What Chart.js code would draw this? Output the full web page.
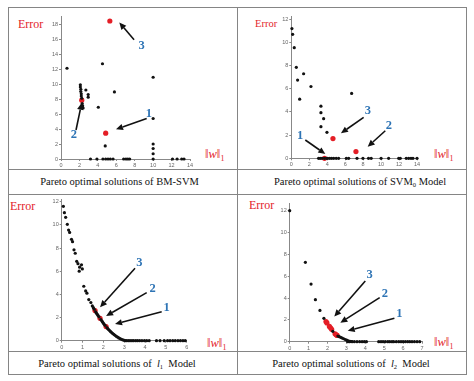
<!DOCTYPE html>
<html><head><meta charset="utf-8">
<script src="https://cdn.jsdelivr.net/npm/chart.js@4.4.1/dist/chart.umd.min.js"></script>
<style>
html,body{margin:0;padding:0;background:#fff;}
#fig{position:relative;width:474px;height:381px;overflow:hidden;font-family:"Liberation Serif",serif;background:#fff;}
.ln{position:absolute;background:#858585;}
.cap{position:absolute;font-size:10.5px;line-height:12px;color:#111;text-align:center;white-space:nowrap;width:220px;}
.cap sub{font-size:6.5px;vertical-align:-2px;}
.err{position:absolute;color:#e3232b;font-size:12px;line-height:14px;white-space:nowrap;}
.nrm{position:absolute;color:#e3232b;font-size:12.5px;line-height:14px;white-space:nowrap;}
.nrm sub{font-size:8px;vertical-align:-3px;}
canvas{position:absolute;}
</style></head><body>
<div id="fig">
  <div class="ln" style="left:8px;top:7px;width:459px;height:1px"></div>
  <div class="ln" style="left:8px;top:374px;width:459px;height:1px"></div>
  <div class="ln" style="left:8px;top:7px;width:1px;height:368px"></div>
  <div class="ln" style="left:466px;top:7px;width:1px;height:368px"></div>
  <div class="ln" style="left:237px;top:7px;width:1px;height:368px"></div>
  <div class="ln" style="left:8px;top:169px;width:459px;height:1px"></div>
  <div class="ln" style="left:8px;top:194px;width:459px;height:1px"></div>
  <div class="ln" style="left:8px;top:351px;width:459px;height:1px"></div>

  <div class="cap" style="left:9.5px;top:176px">Pareto optimal solutions of BM-SVM</div>
  <div class="cap" style="left:250px;top:176px">Pareto optimal solutions of SVM<sub>0</sub> Model</div>
  <div class="cap" style="left:7px;top:358px">Pareto optimal solutions of &nbsp;<i>l</i><sub>1</sub>&nbsp; Model</div>
  <div class="cap" style="left:241px;top:358px">Pareto optimal solutions of &nbsp;<i>l</i><sub>2</sub>&nbsp; Model</div>

  <div class="err" style="left:18px;top:17px">Error</div>
  <div class="err" style="left:255px;top:17px;font-size:10.5px">Error</div>
  <div class="err" style="left:10px;top:199px">Error</div>
  <div class="err" style="left:249px;top:198px">Error</div>

  <div class="nrm" style="left:205px;top:147px">‖<i>w</i>‖<sub>1</sub></div>
  <div class="nrm" style="left:434px;top:147px">‖<i>w</i>‖<sub>1</sub></div>
  <div class="nrm" style="left:207px;top:336px">‖<i>w</i>‖<sub>1</sub></div>
  <div class="nrm" style="left:434px;top:335px">‖<i>w</i>‖<sub>1</sub></div>
</div>
<script>
// ---------- data (x = ||w||1, y = Error) ----------
const bmsvmOther = [[0.65,12.1],[4.5,12.7],[10.0,10.9],[5.8,8.95],[4.05,6.9],[10.0,5.4],[4.8,1.75],
  [2.1,9.9],[2.1,9.6],[2.15,9.3],[2.15,9.0],[2.2,8.7],[2.2,8.4],[2.25,8.1],[2.3,7.4],[2.35,7.1],[2.4,6.8],
  [2.7,9.2],[2.95,8.6],[2.95,8.25],[10,2.0],[10,1.4],[10,0.7],
  [3.2,0],[3.9,0],[4.55,0],[4.85,0],[5.1,0],[5.35,0],[5.65,0],[6.8,0],[7.05,0],[7.25,0],[7.45,0],
  [10,0],[12.1,0],[12.6,0],[13.1,0],[13.35,0]];
const bmsvmChosen = [[4.85,3.45],[2.25,7.85],[5.3,18.4]];

const svm0Other = [[0.07,11.2],[0.15,10.7],[0.33,9.55],[0.56,7.85],[0.7,6.75],[1.37,7.3],[0.93,5.1],
  [2.19,6.2],[6.72,5.6],[3.3,4.5],[3.3,3.94],[3.6,3.42],[3.3,2.73],[3.97,2.24],
  [3.04,0],[3.23,0],[3.42,0],[3.68,0],[3.9,0],[4.05,0],[4.27,0],[4.49,0],[4.72,0],[5.0,0],[5.27,0],
  [6.13,0],[6.39,0],[7.32,0],[7.98,0],[8.6,0],[8.9,0],[10.0,0],[10.84,0],[11.96,0],[12.14,0],
  [12.8,0],[13.07,0],[13.33,0],[13.55,0],[14.0,0]];
const svm0Chosen = [[3.7,0],[7.2,0.58],[4.64,1.7]];

const l1Other = [[0.08,11.6],[0.13,11.05],[0.19,10.65],[0.27,10.05],[0.33,9.55],[0.38,9.35],[0.47,8.75],
  [0.52,8.55],[0.59,7.85],[0.65,7.55],[0.72,6.85],[0.78,6.65],[0.86,6.35],[0.84,6.0],[0.95,6.55],
  [0.99,6.2],[1.06,4.7],[1.15,4.3],[1.21,4.1],[1.3,3.55],[1.4,3.3],[1.47,3.0],[1.52,2.85],[1.56,2.72],
  [1.63,2.5],[1.67,2.38],[1.71,2.27],[1.75,2.16],[1.79,2.06],[1.88,1.83],[1.92,1.72],[1.96,1.62],
  [2.0,1.52],[2.04,1.42],[2.08,1.33],[2.17,1.13],[2.21,1.04],[2.25,0.96],[2.3,0.87],[2.35,0.78],
  [2.4,0.7],[2.45,0.62],[2.5,0.55],[2.56,0.47],[2.62,0.38],[2.68,0.31],[2.74,0.24],[2.8,0.18],
  [2.87,0.12],[2.94,0.07],[3.0,0.03],[3.06,0.01],
  [3.12,0],[3.2,0],[3.28,0],[3.37,0],[3.45,0],[3.55,0],[3.64,0],[3.74,0],[3.85,0],[3.97,0],[4.08,0],
  [4.2,0],[4.55,0],[4.72,0],[4.92,0],[5.08,0],[5.2,0],[5.33,0],[5.45,0],[5.58,0],[5.7,0],[5.82,0],[5.93,0]];
const l1Chosen = [[2.13,1.22],[1.84,1.93],[1.6,2.6]];

const l2Other = [[0,12.0],[0.83,7.27],[1.13,5.28],[1.36,3.85],[1.6,2.86],[1.81,2.14],[2.28,0.95],
  [2.55,0.52],[2.62,0.46],[2.7,0.4],[2.78,0.33],[2.86,0.27],[2.94,0.2],[3.02,0.14],[3.1,0.08],
  [3.19,0.04],[3.28,0.02],
  [3.07,0],[3.17,0],[3.3,0],[3.42,0],[3.56,0],[3.7,0],[3.83,0],[3.95,0],[4.06,0],[4.71,0],[4.83,0],
  [4.94,0],[5.06,0],[5.19,0],[5.29,0],[5.41,0],[5.5,0],[5.64,0],[5.77,0],[5.89,0],[6.0,0],[6.12,0],
  [6.24,0],[6.35,0],[6.47,0],[6.6,0],[6.74,0],[6.88,0]];
const l2Chosen = [[1.92,1.85],[1.97,1.72],[2.1,1.4],[2.16,1.27],[2.22,1.13],[2.4,0.72],[2.46,0.63],[2.51,0.57]];

// axis ranges
const xMax = [14, 14, 6, 7];
const xStep = [2, 2, 1, 1];
const yMax = [19, 12.25, 12.2, 12.7];
const yStep = [2, 2, 2, 2];

// callouts (data coordinates): [fromX, fromY, toX, toY]
const arrows = [
  [[9.3,5.4,5.97,3.96],[1.63,3.87,2.25,7.5],[7.93,15.9,6.33,18.2]],
  [[1.56,1.58,3.79,0.37],[10.47,2.38,8.51,1.0],[8.06,3.54,5.53,2.16]],
  [[4.8,2.5,2.56,1.44],[4.08,4.15,2.13,2.13],[3.52,6.26,1.84,2.89]],
  [[5.54,2.14,3.07,1.0],[4.76,4.03,2.68,1.74],[4.0,5.56,2.36,2.3]]
];
const labels = [
  [[9.55,6.0,'1'],[1.41,3.2,'2'],[8.76,15.1,'3']],
  [[0.97,1.93,'1'],[10.88,2.79,'2'],[8.54,4.08,'3']],
  [[5.04,2.88,'1'],[4.37,4.52,'2'],[3.73,6.74,'3']],
  [[5.8,2.54,'1'],[5.03,4.4,'2'],[4.23,6.1,'3']]
];

// plot area in page pixels (layout)
const areas = [
  {l:61, r:190, t:16.5, b:159},
  {l:291.3, r:417, t:16.4, b:158.3},
  {l:61.7, r:186.7, t:199.4, b:340.7},
  {l:289.7, r:422, t:203.0, b:341.7}
];

const annot = {
  id:'annot',
  afterDatasetsDraw(chart, args, opts){
    const ctx = chart.ctx, sx = chart.scales.x, sy = chart.scales.y;
    ctx.save();
    ctx.strokeStyle = '#111'; ctx.fillStyle = '#111'; ctx.lineWidth = 1.6;
    (opts.arrows||[]).forEach(a=>{
      const x1=sx.getPixelForValue(a[0]), y1=sy.getPixelForValue(a[1]);
      const x2=sx.getPixelForValue(a[2]), y2=sy.getPixelForValue(a[3]);
      const ang=Math.atan2(y2-y1,x2-x1), hl=7, hw=3.2;
      const bx=x2-hl*Math.cos(ang), by=y2-hl*Math.sin(ang);
      ctx.beginPath(); ctx.moveTo(x1,y1); ctx.lineTo(bx,by); ctx.stroke();
      ctx.beginPath(); ctx.moveTo(x2,y2);
      ctx.lineTo(bx+hw*Math.sin(ang), by-hw*Math.cos(ang));
      ctx.lineTo(bx-hw*Math.sin(ang), by+hw*Math.cos(ang));
      ctx.closePath(); ctx.fill();
    });
    ctx.fillStyle = '#2e74b5';
    ctx.font = 'bold 12.5px "Liberation Serif"';
    ctx.textAlign = 'center'; ctx.textBaseline = 'middle';
    (opts.labels||[]).forEach(l=>{
      ctx.fillText(l[2], sx.getPixelForValue(l[0]), sy.getPixelForValue(l[1]));
    });
    ctx.restore();
  }
};

const series = [[bmsvmOther,bmsvmChosen],[svm0Other,svm0Chosen],[l1Other,l1Chosen],[l2Other,l2Chosen]];
const fig = document.getElementById('fig');
const YW = 16, XH = 10;
const toPts = arr => arr.map(p=>({x:p[0], y:p[1]}));

series.forEach((s,i)=>{
  const A = areas[i];
  const cl = Math.floor(A.l)-40, ct = Math.floor(A.t)-12;
  const cw = Math.ceil(A.r)-cl+45, ch = Math.ceil(A.b)-ct+22;
  const cv = document.createElement('canvas');
  cv.width = cw; cv.height = ch;
  cv.style.left = cl+'px'; cv.style.top = ct+'px';
  cv.style.width = cw+'px'; cv.style.height = ch+'px';
  fig.appendChild(cv);
  const tickFont = {family:'"Liberation Sans"', size:5.5};
  new Chart(cv, {
    type:'scatter',
    data:{datasets:[
      {data:toPts(s[0]), pointRadius:1.6, pointBackgroundColor:'#111', pointBorderWidth:0, clip:false},
      {data:toPts(s[1]), pointRadius:2.6, pointBackgroundColor:'#e41e26', pointBorderWidth:0, clip:false}
    ]},
    options:{
      responsive:false, animation:false, events:[], devicePixelRatio:1,
      layout:{padding:{left:A.l-cl-YW, top:A.t-ct, right:cl+cw-A.r, bottom:ct+ch-A.b-XH}},
      plugins:{legend:{display:false}, tooltip:{enabled:false}, annot:{arrows:arrows[i], labels:labels[i]}},
      scales:{
        x:{type:'linear', min:0, max:xMax[i],
           ticks:{stepSize:xStep[i], includeBounds:false, autoSkip:false, maxRotation:0, padding:1, color:'#666', font:tickFont},
           grid:{display:true, drawOnChartArea:false, drawTicks:true, tickLength:2, color:'#888'},
           border:{display:true, color:'#888', width:1},
           afterFit(sc){ sc.height = XH; }},
        y:{type:'linear', min:0, max:yMax[i],
           ticks:{stepSize:yStep[i], includeBounds:false, autoSkip:false, padding:1, color:'#666', font:tickFont},
           grid:{display:true, drawOnChartArea:false, drawTicks:true, tickLength:2, color:'#888'},
           border:{display:true, color:'#888', width:1},
           afterFit(sc){ sc.width = YW; }}
      }
    },
    plugins:[annot]
  });
});
</script>
</body></html>
